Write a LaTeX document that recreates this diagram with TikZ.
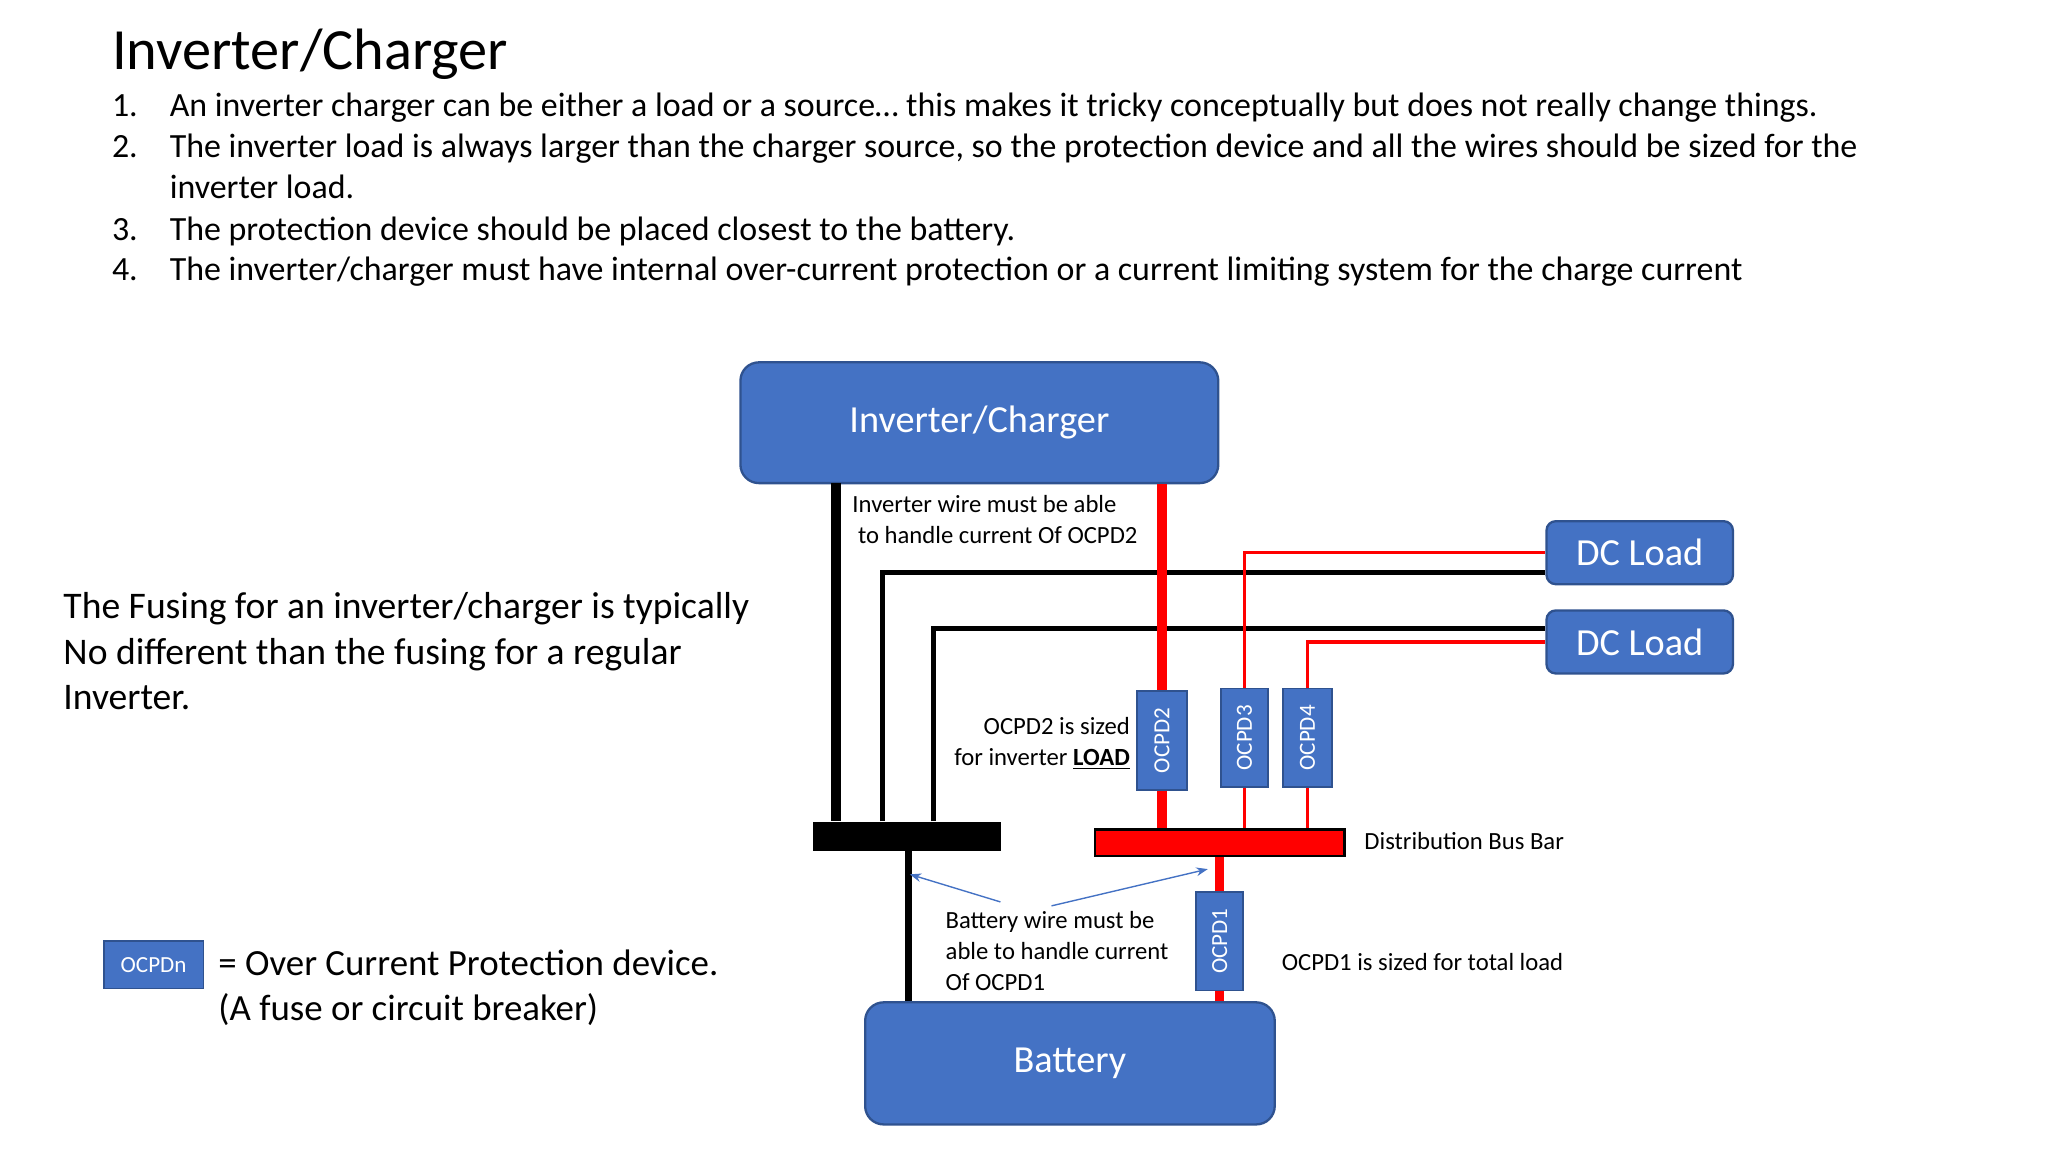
\documentclass[tikz,border=0pt]{standalone}
\usepackage{fontspec}
\setmainfont{Carlito}
\usetikzlibrary{arrows.meta}
\definecolor{boxblue}{HTML}{4472C4}
\definecolor{boxedge}{HTML}{2F528F}
\definecolor{arrblue}{HTML}{4472C4}
\begin{document}
\begin{tikzpicture}[x=0.02cm,y=-0.02cm,
  box/.style={draw=boxedge,line width=1pt,fill=boxblue,text=white,rounded corners=8pt,inner sep=0pt},
  fuse/.style={draw=boxedge,line width=0.8pt,fill=boxblue,text=white,inner sep=0pt,font=\fontsize{10}{12}\selectfont},
  lbl/.style={inner sep=0pt,font=\fontsize{10.7}{13.4}\selectfont,align=left},
  blk/.style={black,line width=2.2pt},
  redw/.style={red,line width=1.4pt},
  callout/.style={arrblue,line width=0.6pt,-{Stealth[length=5pt]}}]
\useasboundingbox (0,0) rectangle (1560,878);
% title and list
\node[anchor=base west,inner sep=0pt,font=\fontsize{25.3}{30}\selectfont] (title) at (85,53) {Inverter/Charger};
\begin{scope}[every node/.style={anchor=base west,inner sep=0pt,font=\fontsize{14.7}{17}\selectfont}]
\node (n1) at (85,89) {1.}; \node (t1) at (129,89) {An inverter charger can be either a load or a source… this makes it tricky conceptually but does not really change things.};
\node (n2) at (85,120) {2.}; \node (t2) at (129,120) {The inverter load is always larger than the charger source, so the protection device and all the wires should be sized for the};
\node (t2b) at (129,151) {inverter load.};
\node (n3) at (85,183) {3.}; \node (t3) at (129,183) {The protection device should be placed closest to the battery.};
\node (n4) at (85,214) {4.}; \node (t4) at (129,214) {The inverter/charger must have internal over-current protection or a current limiting system for the charge current};
\end{scope}
% boxes
\node[box,minimum width=364*0.02cm,minimum height=92*0.02cm,font=\fontsize{16.6}{19}\selectfont] (inv) at (746,322) {Inverter/Charger};
\node[box,minimum width=312*0.02cm,minimum height=93*0.02cm,font=\fontsize{16.6}{19}\selectfont] (bat) at (815,810) {Battery};
\node[box,rounded corners=4pt,minimum width=142*0.02cm,minimum height=48*0.02cm,font=\fontsize{16.6}{19}\selectfont] (dc1) at (1249,421) {DC Load};
\node[box,rounded corners=4pt,minimum width=142*0.02cm,minimum height=48*0.02cm,font=\fontsize{16.6}{19}\selectfont] (dc2) at (1249,489) {DC Load};
% bus bars
\node[fill=black,minimum width=143*0.02cm,minimum height=22*0.02cm,inner sep=0pt] (bbus) at (691,637) {};
\node[draw=black,line width=1.2pt,fill=red,minimum width=190*0.02cm,minimum height=20*0.02cm,inner sep=0pt] (rbus) at (929,642) {};
% fuses
\node[fuse,minimum width=38*0.02cm,minimum height=75*0.02cm] (f2) at (885,564) {\rotatebox{90}{OCPD2}};
\node[fuse,minimum width=36*0.02cm,minimum height=75*0.02cm] (f3) at (948,562) {\rotatebox{90}{OCPD3}};
\node[fuse,minimum width=37*0.02cm,minimum height=75*0.02cm] (f4) at (996,562) {\rotatebox{90}{OCPD4}};
\node[fuse,minimum width=36*0.02cm,minimum height=75*0.02cm] (f1) at (929,717) {\rotatebox{90}{OCPD1}};
% black wires
\draw[black,line width=4.5pt] (637,368) -- (bbus.north -| 637,0);
\draw[black,line width=3.4pt] (bbus.south -| 692,0) -- (bat.north -| 692,0);
\draw[blk] (bbus.north -| 672,0) -- (672,436) -- (dc1.west |- 672,436);
\draw[blk] (bbus.north -| 711,0) -- (711,479) -- (dc2.west |- 711,479);
% red wires
\draw[red,line width=4.5pt] (f2.north |- inv.south) -- (f2.north);
\draw[red,line width=4.5pt] (f2.south) -- (f2.south |- rbus.north);
\draw[redw] (f3.south) -- (f3.south |- rbus.north);
\draw[redw] (f3.north) -- (f3.north |- 0,421) -- (dc1.west |- 0,421);
\draw[redw] (f4.south) -- (f4.south |- rbus.north);
\draw[redw] (f4.north) -- (f4.north |- 0,489) -- (dc2.west |- 0,489);
\draw[red,line width=3.8pt] (rbus.south -| f1.north) -- (f1.north);
\draw[red,line width=3.8pt] (f1.south) -- (f1.south |- bat.north);
% labels
\node[lbl,anchor=north west] (l1) at (649,377) {Inverter wire must be able\\\ to handle current Of OCPD2};
\node[lbl,anchor=north east,align=right] (l2) at (861,546) {OCPD2 is sized\\for inverter \textbf{\underline{LOAD}}};
\node[lbl,anchor=west] (l3) at (1039,641) {Distribution Bus Bar};
\node[lbl,anchor=north west] (l4) at (720,694) {Battery wire must be\\able to handle current\\Of OCPD1};
\node[lbl,anchor=west] (l5) at (976,733) {OCPD1 is sized for total load};
\coordinate (a1s) at (762,687); \coordinate (a1e) at (693,666);
\coordinate (a2s) at (801,690); \coordinate (a2e) at (920,662);
\draw[callout] (a1s) -- (a1e);
\draw[callout] (a2s) -- (a2e);
% left texts
\node[anchor=north west,inner sep=0pt,align=left,font=\fontsize{16.3}{19.8}\selectfont] (side) at (48,451) {The Fusing for an inverter/charger is typically\\No different than the fusing for a regular\\Inverter.};
\node[fuse,minimum width=76*0.02cm,minimum height=36*0.02cm] (key) at (117,735) {OCPDn};
\node[anchor=north west,inner sep=0pt,align=left,font=\fontsize{16}{19.8}\selectfont] (keyt) at (166,723) {= Over Current Protection device.\\(A fuse or circuit breaker)};
\end{tikzpicture}
\end{document}
